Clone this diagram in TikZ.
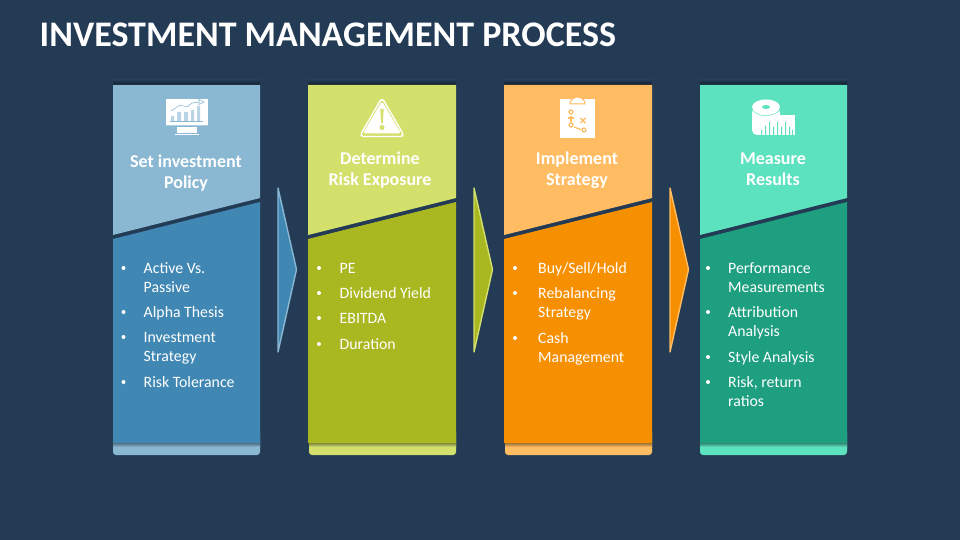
\documentclass[tikz,border=0pt]{standalone}
\usepackage{fontspec}
\setmainfont{Carlito}
\usepackage{xcolor}
\definecolor{bgND}{HTML}{243B55}
\definecolor{blueL}{HTML}{8AB8D3}
\definecolor{blueD}{HTML}{4087B3}
\definecolor{greenL}{HTML}{D3E06C}
\definecolor{greenD}{HTML}{A9B720}
\definecolor{orangeL}{HTML}{FFBC62}
\definecolor{orangeD}{HTML}{F79000}
\definecolor{tealL}{HTML}{5DE2BF}
\definecolor{tealD}{HTML}{1E9F80}
\begin{document}
\begin{tikzpicture}[x=1pt,y=-1pt,
                    titleND/.style={anchor=west,
                                    text=white,
                                    inner sep=0pt,
                                    font=\fontsize{36}{38}\selectfont\bfseries},
                    headND/.style={text=white,
                                   inner sep=0pt,
                                   align=center,
                                   font=\fontsize{18}{21}\selectfont\bfseries},
                    itemND/.style={anchor=north west,
                                   text=white,
                                   inner sep=0pt,
                                   align=left,
                                   execute at begin node=\strut,
                                   font=\fontsize{15.8}{19}\selectfont},
                    dotND/.style={circle,
                                  fill=white,
                                  inner sep=0pt,
                                  minimum size=4pt},
                    topBar/.style={top color=bgND,bottom color=black!55!bgND,draw=none},
                    lowBar/.style={top color=black!40!#1,bottom color=#1,draw=none},
                    arrowND/.style={line width=1.4pt,line join=round}]
            \useasboundingbox (0,0) rectangle (960,540);
            \fill[bgND] (0,0) rectangle (960,540);
            \node[titleND](title) at (39.5,35) {INVESTMENT MANAGEMENT PROCESS};

            % first column
            \shade[topBar] (113,80) rectangle (260,85);
            \fill[blueL, rounded corners=3pt] (113,430) rectangle (260,455);
            \shade[lowBar=blueL] (113,443) rectangle (260,447);
            \fill[blueL] (113,85) -- (260,85) -- (260,198) -- (113,235) -- cycle;
            \fill[blueD] (113,239) -- (260,202) -- (260,443) -- (113,443) -- cycle;
            \node[headND](h1) at (186,173) {Set investment\\Policy};
            \node[dotND](b11) at (123.5,268) {};
            \node[itemND](t11) at (143.5,262.7) {Active Vs.\\Passive};
            \node[dotND](b12) at (123.5,312) {};
            \node[itemND](t12) at (143.5,303.7) {Alpha Thesis};
            \node[dotND](b13) at (123.5,337) {};
            \node[itemND](t13) at (143.5,331.7) {Investment\\Strategy};
            \node[dotND](b14) at (123.5,382) {};
            \node[itemND](t14) at (143.5,373.7) {Risk Tolerance};
            % monitor
            \fill[white] (166,99) rectangle (208,125);
            \fill[white] (177,127) rectangle (197,133);
            \fill[white] (175,134) rectangle (199,135);
            \fill[blueL!70] (166,125) rectangle (208,126);
            \fill[blueL!60] (171,116) rectangle (174,121) (177,112) rectangle (181,121)
                         (184,112) rectangle (188,121) (191,110) rectangle (194,121)
                         (197,106) rectangle (200,121);
            \draw[blueL, line width=0.6pt] (170,121.5) -- (203,121.5);
            \draw[blueL, line width=0.6pt] (171,111) -- (180,105) -- (187,107) -- (192,103) -- (199,102);
            \draw[blueL, line width=0.6pt] (199,99.5) -- (204,102) -- (199,104.5) -- cycle;

            % arrow after first column
            \filldraw[blueD, draw=blueL, arrowND] (278,188) -- (296.5,269.5) -- (278,352) -- cycle;

            % second column
            \shade[topBar] (308,80) rectangle (456,85);
            \fill[greenL, rounded corners=3pt] (309,430) rectangle (456,455);
            \shade[lowBar=greenL] (309,443) rectangle (456,447);
            \fill[greenL] (308,85) -- (456,85) -- (456,198) -- (308,235) -- cycle;
            \fill[greenD] (308,239) -- (456,202) -- (456,443) -- (308,443) -- cycle;
            \node[headND](h2) at (380,170) {Determine\\Risk Exposure};
            \node[dotND](b21) at (319,268) {};
            \node[itemND](t21) at (339.5,259.7) {PE};
            \node[dotND](b22) at (319,293) {};
            \node[itemND](t22) at (339.5,284.7) {Dividend Yield};
            \node[dotND](b23) at (319,318) {};
            \node[itemND](t23) at (339.5,309.7) {EBITDA};
            \node[dotND](b24) at (319,344) {};
            \node[itemND](t24) at (339.5,335.7) {Duration};
            % warning sign
            \draw[white, line width=1.4pt, line join=round, rounded corners=4pt]
                (382,97.5) -- (404.5,136.5) -- (359.5,136.5) -- cycle;
            \fill[white, rounded corners=2.5pt] (382,101) -- (401,133.5) -- (363,133.5) -- cycle;
            \fill[greenL] (380.3,109) -- (383.7,109) -- (382.8,123) -- (381.2,123) -- cycle;
            \fill[greenL] (382,127.5) circle (2.5);

            % arrow after second column
            \filldraw[greenD, draw=greenL, arrowND] (474,188) -- (492.5,269.5) -- (474,352) -- cycle;

            % third column
            \shade[topBar] (504,80) rectangle (652,85);
            \fill[orangeL, rounded corners=3pt] (505,430) rectangle (652,455);
            \shade[lowBar=orangeL] (505,443) rectangle (652,447);
            \fill[orangeL] (504,85) -- (652,85) -- (652,198) -- (504,235) -- cycle;
            \fill[orangeD] (504,239) -- (652,202) -- (652,443) -- (504,443) -- cycle;
            \node[headND](h3) at (577,170) {Implement\\Strategy};
            \node[dotND](b31) at (515,268) {};
            \node[itemND](t31) at (538,259.7) {Buy/Sell/Hold};
            \node[dotND](b32) at (515,293) {};
            \node[itemND](t32) at (538,287.7) {Rebalancing\\Strategy};
            \node[dotND](b33) at (515,338) {};
            \node[itemND](t33) at (538,332.7) {Cash\\Management};
            % clipboard
            \fill[white] (560,99) rectangle (595,138);
            \filldraw[white, draw=orangeL, line width=1pt] (570,104) arc (180:360:7.5 and 7) -- cycle;
            \draw[orangeL, line width=1.2pt] (571,112) circle (2)
                                            (571,125) circle (2)
                                            (584,130) circle (2);
            \draw[orangeL, line width=1.2pt] (571,122) -- (571,116);
            \draw[orangeL, line width=1.2pt] (568,118) -- (574,118);
            \draw[orangeL, line width=1.2pt] (574,127) -- (581,129.5);
            \draw[orangeL, line width=1.2pt] (580.5,118) -- (585.5,123) (585.5,118) -- (580.5,123);

            % arrow after third column
            \filldraw[orangeD, draw=orangeL, arrowND] (670,188) -- (688.5,269.5) -- (670,352) -- cycle;

            % fourth column
            \shade[topBar] (700,80) rectangle (847,85);
            \fill[tealL, rounded corners=3pt] (700,430) rectangle (847,455);
            \shade[lowBar=tealL] (700,443) rectangle (847,447);
            \fill[tealL] (700,85) -- (847,85) -- (847,198) -- (700,235) -- cycle;
            \fill[tealD] (700,239) -- (847,202) -- (847,443) -- (700,443) -- cycle;
            \node[headND](h4) at (773,169) {Measure\\Results};
            \node[dotND](b41) at (708,268) {};
            \node[itemND](t41) at (728,262.7) {Performance\\Measurements};
            \node[dotND](b42) at (708,312) {};
            \node[itemND](t42) at (728,306.7) {Attribution\\Analysis};
            \node[dotND](b43) at (708,357) {};
            \node[itemND](t43) at (728,348.7) {Style Analysis};
            \node[dotND](b44) at (708,382) {};
            \node[itemND](t44) at (728,376.7) {Risk, return\\ratios};
            % measuring tape
            \fill[white, rounded corners=5pt] (752,107) -- (752,135) -- (780,135) -- (780,107) -- cycle;
            \fill[white] (770,115) rectangle (795,135);
            \fill[white] (766,107) ellipse (14 and 7.5);
            \draw[tealL, line width=0.5pt] (752,108) arc (180:0:14 and 7.5);
            \fill[tealL] (766,107) ellipse (4 and 2);
            \fill[tealL] (761,130) rectangle (762,135) (765,126) rectangle (766,135)
                         (769,122) rectangle (770,135) (773,127) rectangle (774,135)
                         (777,122) rectangle (778,135) (781,127) rectangle (782,135)
                         (785,122) rectangle (786,135) (789,127) rectangle (790,135)
                         (792,130) rectangle (793,135);
        \end{tikzpicture}
\end{document}
